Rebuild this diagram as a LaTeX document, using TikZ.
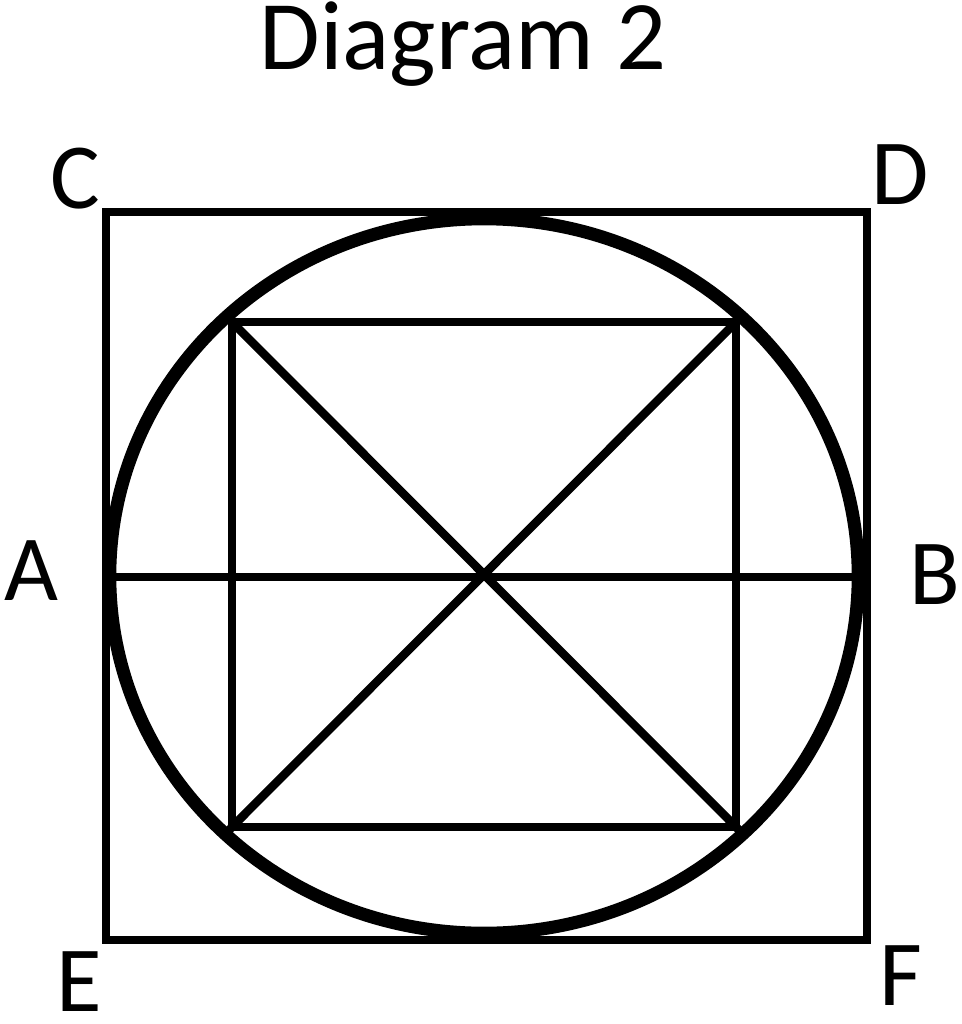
\documentclass[tikz,border=0pt]{standalone}
\usepackage{fontspec}
\setmainfont{Carlito}
\usetikzlibrary{positioning}

\begin{document}
\begin{tikzpicture}[x=0.01cm,y=-0.01cm]
	\tikzstyle{frame} = [draw, line width=0.085cm, line cap=rect]
	\tikzstyle{ring} = [draw, line width=0.13cm]
	\tikzstyle{letter} = [inner sep=0pt, font=\fontsize{26.5}{30}\selectfont]
	\tikzstyle{heading} = [inner sep=0pt, anchor=base, font=\fontsize{28}{32}\selectfont]
	\useasboundingbox (0,0) rectangle (962,1024);

	% outer square
	\coordinate (c) at (106,212);
	\coordinate (d) at (867,212);
	\coordinate (e) at (106,940);
	\coordinate (f) at (867,940);
	% inner rectangle
	\coordinate (tl) at (232,322);
	\coordinate (tr) at (736,322);
	\coordinate (bl) at (232,827);
	\coordinate (br) at (736,827);
	% diameter and centre
	\coordinate (centre) at (484,576);
	\coordinate (a) at (117,577);
	\coordinate (b) at (852,577);

	\node [heading] (title) at (463,69) {Diagram 2};
	\node [letter] (lc) at (75,179) {C};
	\node [letter] (ld) at (900,175) {D};
	\node [letter] (la) at (31,571) {A};
	\node [letter] (lb) at (935,575) {B};
	\node [letter] (le) at (79,982) {E};
	\node [letter] (lf) at (901,976) {F};

	\path[frame] (c) -- (d) -- (f) -- (e) -- cycle;
	\draw[ring] (centre) ellipse [x radius=3.74cm, y radius=3.57cm];
	\path[frame] (tl) -- (tr) -- (br) -- (bl) -- cycle;
	\path[frame] (tl) -- (br);
	\path[frame] (tr) -- (bl);
	\path[frame] (a) -- (b);
\end{tikzpicture}
\end{document}
